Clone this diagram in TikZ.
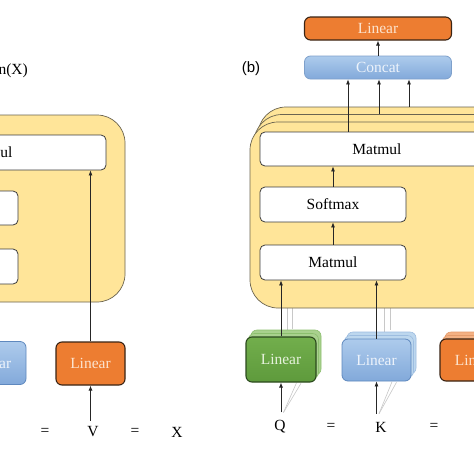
\documentclass[tikz,border=0pt]{standalone}
\usepackage{fontspec}
\setmainfont{Liberation Serif}
\newfontfamily\sansf{Liberation Sans}
\usetikzlibrary{arrows.meta}
\definecolor{yelfill}{HTML}{FFE599}
\definecolor{yelline}{HTML}{6B6450}
\definecolor{boxline}{HTML}{3C3C3C}
\definecolor{orfill}{HTML}{ED7D31}
\definecolor{ordark}{HTML}{3A2414}
\definecolor{ortext}{HTML}{FCE3CE}
\definecolor{orback}{HTML}{F4B183}
\definecolor{orbackline}{HTML}{E39A6A}
\definecolor{blueA}{HTML}{ADCBEC}
\definecolor{blueB}{HTML}{82A9DA}
\definecolor{blueline}{HTML}{5E88BE}
\definecolor{bluetext}{HTML}{EDF3FB}
\definecolor{blueback}{HTML}{BDD7EE}
\definecolor{bluebackline}{HTML}{9DBDE0}
\definecolor{greenA}{HTML}{72AE4C}
\definecolor{greenB}{HTML}{5E9A3C}
\definecolor{greenline}{HTML}{2C4A1E}
\definecolor{greentext}{HTML}{E6F2DC}
\definecolor{greenback}{HTML}{A9D18E}
\definecolor{greenbackline}{HTML}{8CBF6E}
\definecolor{arrcol}{HTML}{262626}
\definecolor{faintcol}{HTML}{C8C8C8}
\tikzset{
  x=1pt, y=-1pt,
  every node/.style={font=\fontsize{15.5}{18}\selectfont},
  container/.style={draw=yelline, fill=yelfill, line width=0.7pt, rounded corners=28pt, inner sep=0pt},
  wbox/.style={draw=boxline, fill=white, line width=0.8pt, rounded corners=5pt, inner sep=0pt, text=black},
  orbox/.style={draw=ordark, fill=orfill, line width=1.1pt, rounded corners=6pt, inner sep=0pt, text=ortext},
  blbox/.style={draw=blueline, top color=blueA, bottom color=blueB, line width=0.8pt, rounded corners=6pt, inner sep=0pt, text=bluetext},
  grbox/.style={draw=greenline, top color=greenA, bottom color=greenB, line width=1.1pt, rounded corners=6pt, inner sep=0pt, text=greentext},
  grback/.style={draw=greenbackline, fill=greenback, line width=0.6pt, rounded corners=6pt, inner sep=0pt},
  blback/.style={draw=bluebackline, fill=blueback, line width=0.6pt, rounded corners=6pt, inner sep=0pt},
  orback/.style={draw=orbackline, fill=orback, line width=0.6pt, rounded corners=6pt, inner sep=0pt},
  lbl/.style={inner sep=0pt, text=black},
  arr/.style={draw=arrcol, line width=0.8pt, -{Latex[length=5pt,width=4pt]}},
  faint/.style={draw=faintcol, line width=0.6pt}
}
\begin{document}
\begin{tikzpicture}
\useasboundingbox (0,0) rectangle (474,474);
\clip (0,0) rectangle (474,474);
\fill[white] (0,0) rectangle (474,474);

% ---------------- panel (a) ----------------
\node[lbl, anchor=east] (ttl) at (28,71) {n(X)};
\node[container, minimum width=325pt, minimum height=187pt] (lcont) at (-37.5,208.5) {};
\node[wbox, minimum width=236pt, minimum height=35pt] (lmm) at (-12,152.5) {Matmul};
\node[wbox, minimum width=136pt, minimum height=34pt] (lb1) at (-50,208) {};
\node[wbox, minimum width=136pt, minimum height=35pt] (lb2) at (-50,266.5) {};
\node[blbox, minimum width=70pt, minimum height=43pt] (lbl1) at (-9,363) {Linear};
\node[orbox, minimum width=69pt, minimum height=43pt] (lor) at (90.5,363.5) {Linear};
\draw[arr] (lor.north) -- (lor.north |- lmm.south);
\node[lbl] (eqa) at (45,432) {=};
\node[lbl] (V) at (93,432) {V};
\node[lbl] (eqb) at (135,432) {=};
\node[lbl] (X) at (177,432) {X};
\coordinate (vt) at ([yshift=6pt]V.north);
\draw[arr] (vt -| lor.south) -- (lor.south);

% ---------------- panel (b) ----------------
\node[lbl, font=\sansf\fontsize{15}{18}\selectfont] (blab) at (251,69) {(b)};
\node[orbox, minimum width=147pt, minimum height=23pt] (topl) at (378,28.5) {Linear};
\node[blbox, draw=blueline!80, minimum width=147pt, minimum height=23pt] (concat) at (378,67.5) {Concat};
\draw[arr] (concat.north) -- (topl.south);

% faint lines from back Linear layers into back containers
\coordinate (fg2) at (287,333);
\coordinate (fg3) at (292,329);
\coordinate (fb2) at (384,334);
\coordinate (fb3) at (390,330);

% stacked containers
\node[container, minimum width=350pt, minimum height=186pt] (lay3) at (433,200) {};
\node[container, minimum width=350pt, minimum height=186pt] (lay2) at (429,207.5) {};
\draw[faint] (fg2 |- lay2.south) -- (fg2);
\draw[faint] (fg3 |- lay2.south) -- (fg3);
\draw[faint] (fb2 |- lay2.south) -- (fb2);
\draw[faint] (fb3 |- lay2.south) -- (fb3);
\node[container, minimum width=350pt, minimum height=186pt] (lay1) at (425,215) {};

\node[wbox, minimum width=234pt, minimum height=34pt] (topmm) at (377,149) {};
\node[lbl] (topmmt) at (377,149) {Matmul};
\node[wbox, minimum width=146pt, minimum height=35pt] (sm) at (333,204.5) {Softmax};
\node[wbox, minimum width=146pt, minimum height=35pt] (lowmm) at (333,262.5) {Matmul};
\draw[arr] (sm.north) -- (sm.north |- topmm.south);
\draw[arr] (lowmm.north) -- (lowmm.north |- sm.south);

\coordinate (c1) at ([xshift=-30pt]concat.south);
\coordinate (c2) at ([xshift=1pt]concat.south);
\coordinate (c3) at ([xshift=31pt]concat.south);
\draw[arr] (c1 |- topmm.north) -- (c1);
\draw[arr] (c2 |- lay2.north) -- (c2);
\draw[arr] (c3 |- lay3.north) -- (c3);

% labels
\node[lbl] (Q) at (280,427) {Q};
\node[lbl] (eqc) at (331,427) {=};
\node[lbl] (K) at (381,427) {K};
\node[lbl] (eqd) at (434,427) {=};
\coordinate (qt) at ([yshift=8pt]Q.north);
\coordinate (kt) at ([yshift=8pt]K.north);

% Linear stacks
\node[grback, minimum width=70pt, minimum height=45pt] (g3) at (286,352.5) {};
\node[grback, minimum width=70pt, minimum height=45pt] (g2) at (283.5,356) {};
\node[blback, minimum width=69pt, minimum height=42pt] (b3) at (381.5,353) {};
\node[blback, minimum width=69pt, minimum height=42pt] (b2) at (379,356.5) {};
\node[orback, minimum width=70pt, minimum height=42pt] (o3) at (480,353) {};
\node[orback, minimum width=70pt, minimum height=42pt] (o2) at (477.5,356.5) {};

\coordinate (qg2) at ([xshift=13pt,yshift=-4pt]g2.south);
\coordinate (qg3) at ([xshift=15pt,yshift=-8pt]g3.south);
\coordinate (kb2) at ([xshift=13pt,yshift=-4pt]b2.south);
\coordinate (kb3) at ([xshift=15pt,yshift=-8pt]b3.south);
\draw[faint] (qt -| g2.south) -- (qg2);
\draw[faint] (qt -| g2.south) -- (qg3);
\draw[faint] (kt -| b2.south) -- (kb2);
\draw[faint] (kt -| b2.south) -- (kb3);

\node[grbox, minimum width=70pt, minimum height=45pt] (g1) at (281,359.5) {Linear};
\node[blbox, minimum width=69pt, minimum height=42pt] (b1) at (376.5,360) {Linear};
\node[orbox, minimum width=70pt, minimum height=42pt] (o1) at (475,360) {Linear};

\draw[arr] (g1.north) -- (g1.north |- lowmm.south);
\draw[arr] (b1.north) -- (b1.north |- lowmm.south);
\draw[arr] (qt -| g1.south) -- (g1.south);
\draw[arr] (kt -| b1.south) -- (b1.south);
\end{tikzpicture}
\end{document}
